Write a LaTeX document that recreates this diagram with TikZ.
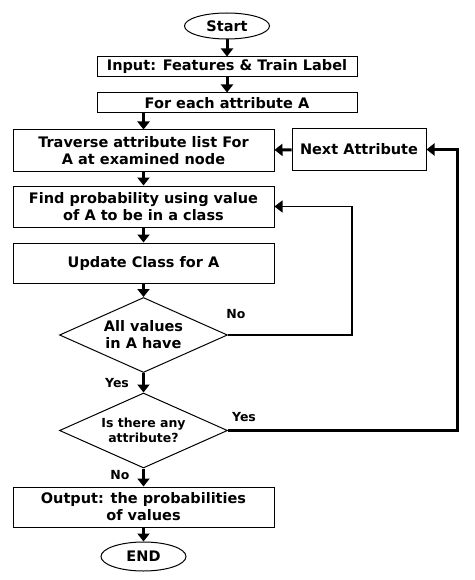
\documentclass[tikz,border=0pt]{standalone}
\usepackage{fontspec}
\setmainfont{DejaVu Sans}
\usetikzlibrary{shapes.geometric,arrows.meta}
\begin{document}
\begin{tikzpicture}[x=1pt,y=-1pt,
  font=\bfseries\fontsize{14.5}{17}\selectfont,
  box/.style={draw,line width=1pt,inner sep=0pt,align=center,minimum width=261pt},
  oval/.style={draw,ellipse,line width=1pt,inner sep=0pt,minimum width=85pt},
  decide/.style={draw,diamond,line width=1pt,inner sep=0pt,aspect=2.2,align=center,minimum width=168pt,minimum height=75pt},
  small/.style={font=\bfseries\fontsize{12.5}{15}\selectfont},
  arr/.style={-{Triangle[length=8pt,width=12pt]},line width=3pt},
  backarr/.style={-{Triangle[length=8pt,width=12pt]},line width=1.5pt},
  yesline/.style={line width=3pt}]
\useasboundingbox (0,0) rectangle (474,580);
% main column
\node[oval,minimum height=26pt] (start) at (227,26) {Start};
\node[box,minimum width=260pt,minimum height=20pt] (input) at (227,67) {Input: Features \& Train Label};
\node[box,minimum width=260pt,minimum height=20pt] (foreach) at (227,103) {For each attribute A};
\node[box,minimum height=41pt] (trav) at (143.5,150.5) {Traverse attribute list For\\A at examined node};
\node[box,minimum width=134pt,minimum height=41pt] (next) at (359,149.5) {Next Attribute};
\node[box,minimum height=41pt] (find) at (143.5,206.5) {Find probability using value\\of A to be in a class};
\node[box,minimum height=40pt] (upd) at (143.5,263) {Update Class for A};
\node[decide] (allv) at (143.5,335) {All values\\in A have};
\node[decide,small] (anyattr) at (143.5,430.5) {Is there any\\attribute?};
\node[box,minimum height=40pt] (out) at (143.5,507) {Output: the probabilities\\of values};
\node[oval,minimum height=29pt] (end) at (143.5,556.5) {END};
% labels
\node[small] (no1) at (236,314) {No};
\node[small] (yes1) at (117,383) {Yes};
\node[small] (yes2) at (244,417) {Yes};
\node[small] (no2) at (120,475) {No};
% arrows
\draw[arr] (start) -- (input);
\draw[arr] (input) -- (foreach);
\draw[arr] (foreach.south -| trav.north) -- (trav);
\draw[arr] (trav) -- (find);
\draw[arr] (find) -- (upd);
\draw[arr] (upd) -- (allv);
\draw[arr] (allv) -- (anyattr);
\draw[arr] (anyattr) -- (out);
\draw[arr] (out) -- (end);
\draw[arr] (next) -- (trav);
% loops back
\coordinate (noturn) at (352,0);
\coordinate (yesturn) at (457,0);
\draw[backarr] (allv.east) -- (allv.east -| noturn) |- (find.east);
\draw[yesline] (anyattr.east) -- (anyattr.east -| yesturn) -- ([yshift=1.5pt]next.east -| yesturn);
\draw[arr] (next.east -| yesturn) -- (next.east);
\end{tikzpicture}
\end{document}
